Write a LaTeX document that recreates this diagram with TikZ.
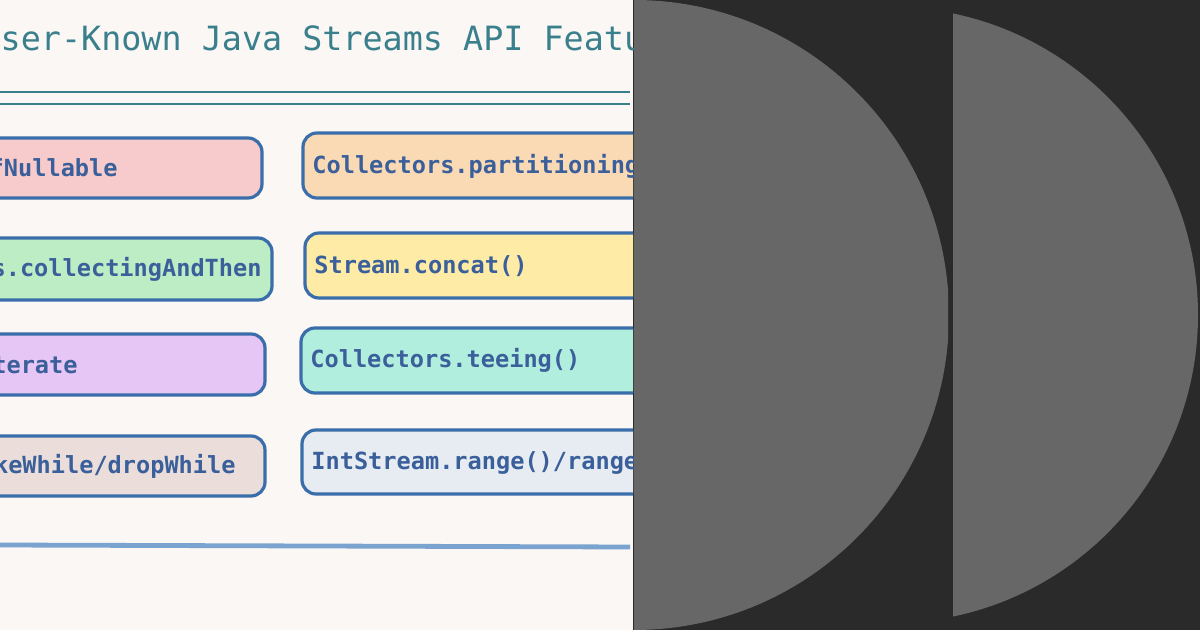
\documentclass[tikz,border=0pt]{standalone}
\usepackage{fontspec}
\setmonofont{DejaVu Sans Mono}
\definecolor{paper}{HTML}{FBF7F4}
\definecolor{dark}{HTML}{2A2A2A}
\definecolor{disc}{HTML}{676767}
\definecolor{titleteal}{HTML}{3A7F8C}
\definecolor{edgeblue}{HTML}{3A6EAA}
\definecolor{inkblue}{HTML}{3A5F9A}
\definecolor{rulebl}{HTML}{7BA3D0}
\definecolor{cpink}{HTML}{F7CBCB}
\definecolor{cgreen}{HTML}{BDEDC4}
\definecolor{cpurple}{HTML}{E5C6F5}
\definecolor{cbeige}{HTML}{EBDEDA}
\definecolor{corange}{HTML}{FADAB4}
\definecolor{cyellow}{HTML}{FDEBA6}
\definecolor{cteal}{HTML}{B1EEDD}
\definecolor{cgrey}{HTML}{E6ECF1}
\tikzset{
  featbox/.style={draw=edgeblue,line width=1.6pt,rounded corners=7pt},
  feattext/.style={font=\ttfamily\fontsize{11.8}{14}\selectfont\bfseries,text=inkblue,inner sep=0pt}
}
\begin{document}
\begin{tikzpicture}[x=0.5pt,y=-0.5pt]
  \useasboundingbox (0,0) rectangle (1200,630);
  \fill[paper] (0,0) rectangle (633,630);
  \fill[dark] (633,0) rectangle (1200,630);
  % grey discs
  \begin{scope}
    \clip (634,0) rectangle (948,630);
    \fill[disc] (634,315) circle[radius=157.5pt];
  \end{scope}
  \begin{scope}
    \clip (953,0) rectangle (1200,630);
    \fill[disc] (890,315) circle[radius=154pt];
  \end{scope}
  \begin{scope}
    \clip (0,0) rectangle (633,630);
    \node[font=\ttfamily\fontsize{16.7}{20}\selectfont,text=titleteal,anchor=west,inner sep=0pt] (title) at (-60,38) {Lesser-Known Java Streams API Features};
    \draw[titleteal,line width=1.2pt] (0,92) -- (630,92);
    \draw[titleteal,line width=1.2pt] (0,104) -- (630,104);
    % left column
    \draw[featbox,fill=cpink] (-40,138) rectangle (262,198);
    \node[feattext,anchor=east] (nullable) at (118,168) {ofNullable};
    \draw[featbox,fill=cgreen] (-40,238) rectangle (272,300);
    \node[feattext,anchor=east] (andthen) at (262,269) {Collectors.collectingAndThen};
    \draw[featbox,fill=cpurple] (-40,334) rectangle (265,395);
    \node[feattext,anchor=east] (iterate) at (78,364) {Stream.iterate};
    \draw[featbox,fill=cbeige] (-40,436) rectangle (265,496);
    \node[feattext,anchor=east] (while) at (236,466) {takeWhile/dropWhile};
    % right column
    \draw[featbox,fill=corange] (303,133) rectangle (680,198);
    \node[feattext,anchor=west] (partition) at (312,166) {Collectors.partitioningBy()};
    \draw[featbox,fill=cyellow] (305,233) rectangle (680,298);
    \node[feattext,anchor=west] (concat) at (314,266) {Stream.concat()};
    \draw[featbox,fill=cteal] (301,328) rectangle (680,393);
    \node[feattext,anchor=west] (teeing) at (310,360) {Collectors.teeing()};
    \draw[featbox,fill=cgrey] (302,430) rectangle (680,494);
    \node[feattext,anchor=west] (range) at (311,463) {IntStream.range()/rangeClosed()};
    \draw[rulebl,line width=2.4pt] (0,545) -- (630,547);
  \end{scope}
\end{tikzpicture}
\end{document}
